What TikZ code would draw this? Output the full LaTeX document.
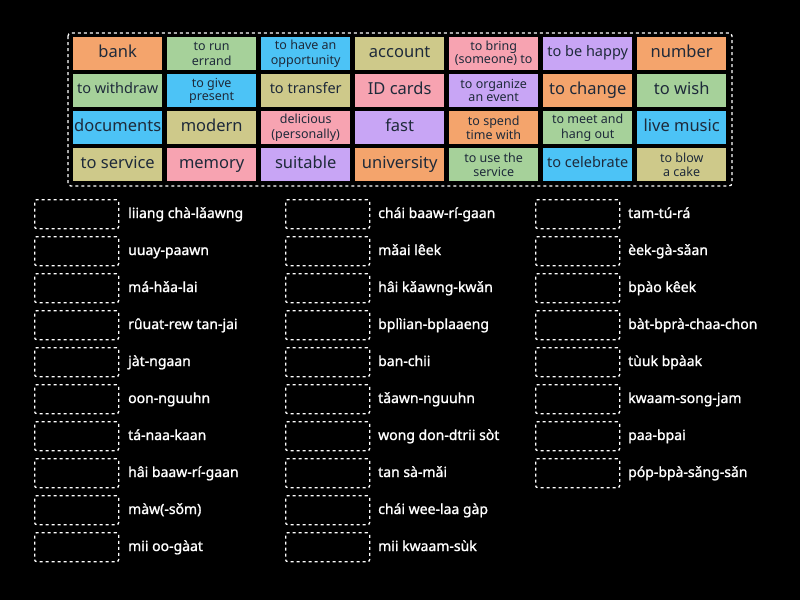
\documentclass[tikz,border=0pt]{standalone}
\usepackage{fontspec}
\setmainfont{Noto Sans}
\newfontfamily\lblfont{Noto Sans}[FakeBold=1.3]
\definecolor{cO}{HTML}{F4A46C}
\definecolor{cG}{HTML}{A6D19A}
\definecolor{cB}{HTML}{4CC3F6}
\definecolor{cY}{HTML}{CEC98A}
\definecolor{cP}{HTML}{F7A3B1}
\definecolor{cV}{HTML}{C8A5F5}
\definecolor{tx}{HTML}{1E2A3A}
\begin{document}
\begin{tikzpicture}[x=1pt,y=-1pt,
 tile/.style={minimum width=89pt,minimum height=33pt,inner sep=0pt,anchor=north west,text=tx,align=center,font=\fontsize{16.5}{18}\selectfont},
 two/.style={font=\fontsize{12.5}{13}\selectfont},
 mid/.style={font=\fontsize{14.5}{16}\selectfont},
 slot/.style={draw=white,dashed,line width=1.3pt,rounded corners=2pt,minimum width=84pt,minimum height=29pt,anchor=north west,inner sep=0pt},
 lbl/.style={text=white,anchor=base west,inner sep=0pt,font=\fontsize{14}{16}\lblfont}]
\fill[black] (0,0) rectangle (800,600);
\useasboundingbox (0,0) rectangle (800,600);
\draw[white,dashed,line width=1.3pt,rounded corners=3pt] (68,33) rectangle (732,186);
\foreach \c/\r/\col/\t/\s [count=\i] in {
0/0/cO/bank/,1/0/cG/{to run\\errand}/two,2/0/cB/{to have an\\opportunity}/two,3/0/cY/account/,4/0/cP/{to bring\\(someone) to}/two,5/0/cV/to be happy/mid,6/0/cO/number/,
0/1/cG/to withdraw/mid,1/1/cB/{to give\\present}/two,2/1/cY/to transfer/mid,3/1/cP/ID cards/,4/1/cV/{to organize\\an event}/two,5/1/cO/to change/,6/1/cG/to wish/,
0/2/cB/documents/,1/2/cY/modern/,2/2/cP/{delicious\\(personally)}/two,3/2/cV/fast/,4/2/cO/{to spend\\time with}/two,5/2/cG/{to meet and\\hang out}/two,6/2/cB/live music/,
0/3/cY/to service/,1/3/cP/memory/,2/3/cV/suitable/,3/3/cO/university/,4/3/cG/{to use the\\service}/two,5/3/cB/to celebrate/mid,6/3/cY/{to blow\\a cake}/two}
 \node[tile,fill=\col,\s] (t\i) at (73+94*\c,37+37*\r) {\strut\t};
\foreach \t [count=\i from 0] in {liiang chà-lǎawng,uuay-paawn,má-hǎa-lai,rûuat-rew tan-jai,jàt-ngaan,oon-nguuhn,tá-naa-kaan,hâi baaw-rí-gaan,màw(-sǒm),mii oo-gàat}
 {\node[slot] (a\i) at (34,199+37*\i) {}; \node[lbl] (la\i) at (128,218+37*\i) {\t};}
\foreach \t [count=\i from 0] in {chái baaw-rí-gaan,mǎai lêek,hâi kǎawng-kwǎn,bplìian-bplaaeng,ban-chii,tǎawn-nguuhn,wong don-dtrii sòt,tan sà-mǎi,chái wee-laa gàp,mii kwaam-sùk}
 {\node[slot] (b\i) at (285,199+37*\i) {}; \node[lbl] (lb\i) at (378,218+37*\i) {\t};}
\foreach \t [count=\i from 0] in {tam-tú-rá,èek-gà-sǎan,bpào kêek,bàt-bprà-chaa-chon,tùuk bpàak,kwaam-song-jam,paa-bpai,póp-bpà-sǎng-sǎn}
 {\node[slot] (c\i) at (535,199+37*\i) {}; \node[lbl] (lc\i) at (628,218+37*\i) {\t};}
\end{tikzpicture}
\end{document}
